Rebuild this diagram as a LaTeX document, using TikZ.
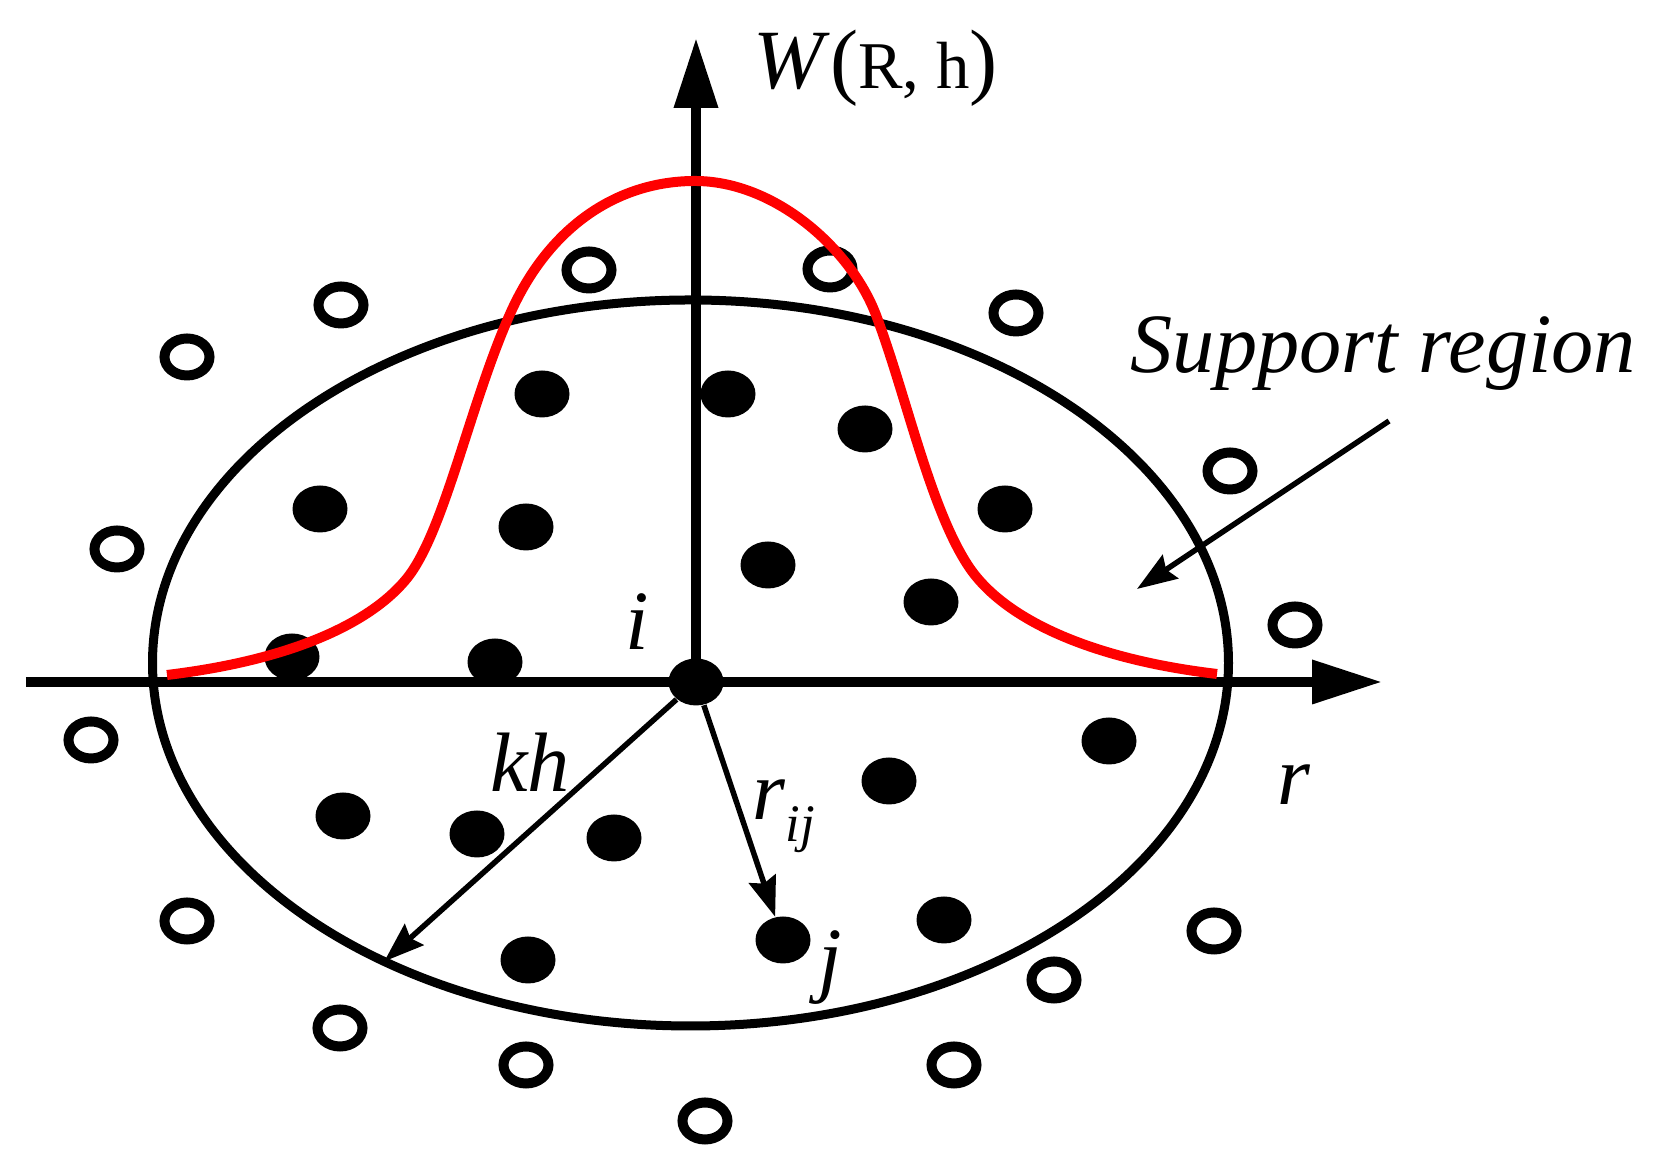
\documentclass[tikz,border=0pt]{standalone}
\usepackage{fontspec}
\setmainfont{Liberation Serif}
\usetikzlibrary{arrows.meta,shapes.geometric}

\begin{document}
\begin{tikzpicture}[
	particle/.style={ellipse,fill=black,inner sep=0pt,minimum width=0.55cm,minimum height=0.47cm},
	ghost/.style={ellipse,draw=black,line width=0.1cm,inner sep=0pt,minimum width=0.45cm,minimum height=0.37cm},
	axis/.style={line width=0.1cm,-{Triangle[length=0.7cm,width=0.42cm]}},
	pointer/.style={line width=0.055cm,-{Stealth[length=0.4cm,width=0.28cm,inset=0.05cm]}},
	kernel/.style={red,line width=0.1cm},
	lab/.style={font=\fontsize{24}{28}\selectfont\itshape,inner sep=0pt}
	]
		\useasboundingbox (0,0) rectangle (16.59,11.64);
		
		% support region
		\coordinate (ctr) at (6.905,5.01);
		\draw [line width=0.09cm] (ctr) ellipse [x radius=5.38, y radius=3.63];
		\path (ctr) ++(235.3:5.38 and 3.63) coordinate (khend);
		
		% particles inside
		\node[particle] (i) at (6.96,4.82) {};
		\node[particle] (j) at (7.83,2.24) {};
		\node[particle] (p1) at (5.42,7.70) {};
		\node[particle] (p2) at (7.28,7.70) {};
		\node[particle] (p3) at (8.65,7.35) {};
		\node[particle] (p4) at (3.20,6.55) {};
		\node[particle] (p5) at (5.26,6.37) {};
		\node[particle] (p6) at (10.05,6.55) {};
		\node[particle] (p7) at (7.68,5.99) {};
		\node[particle] (p8) at (9.31,5.62) {};
		\node[particle] (p9) at (2.92,5.07) {};
		\node[particle] (p10) at (4.95,5.02) {};
		\node[particle] (p11) at (11.09,4.23) {};
		\node[particle] (p12) at (8.89,3.83) {};
		\node[particle] (p13) at (3.43,3.48) {};
		\node[particle] (p14) at (4.77,3.30) {};
		\node[particle] (p15) at (6.14,3.26) {};
		\node[particle] (p16) at (9.44,2.44) {};
		\node[particle] (p17) at (5.28,2.04) {};
		
		% particles outside
		\node[ghost] (q1) at (3.41,8.59) {};
		\node[ghost] (q2) at (5.89,8.94) {};
		\node[ghost] (q3) at (8.30,8.95) {};
		\node[ghost] (q4) at (10.16,8.51) {};
		\node[ghost] (q5) at (1.87,8.07) {};
		\node[ghost] (q6) at (12.30,6.93) {};
		\node[ghost] (q7) at (1.17,6.15) {};
		\node[ghost] (q8) at (12.95,5.39) {};
		\node[ghost] (q9) at (0.91,4.24) {};
		\node[ghost] (q10) at (1.87,2.43) {};
		\node[ghost] (q11) at (12.14,2.33) {};
		\node[ghost] (q12) at (10.54,1.84) {};
		\node[ghost] (q13) at (3.40,1.36) {};
		\node[ghost] (q14) at (5.26,0.99) {};
		\node[ghost] (q15) at (9.54,0.99) {};
		\node[ghost] (q16) at (7.05,0.43) {};
		
		% axes
		\coordinate (rstart) at (0.26,4.82);
		\coordinate (rtip) at (13.82,4.82);
		\coordinate (wtip) at (6.96,11.26);
		\draw[axis] (rstart) -- (rtip);
		\draw[axis] (i.center) -- (wtip);
		
		% kernel
		\draw[kernel] (1.67,4.89) .. controls (3.0,5.05) and (3.75,5.45) .. (4.08,5.87)
			.. controls (4.45,6.35) and (4.7,7.6) .. (5.1,8.5)
			.. controls (5.5,9.4) and (6.2,9.83) .. (6.95,9.83)
			.. controls (7.75,9.83) and (8.51,9.15) .. (8.76,8.49)
			.. controls (9.06,7.70) and (9.3,6.55) .. (9.69,5.97)
			.. controls (10.04,5.45) and (10.9,5.05) .. (12.17,4.90);
		
		% radius and distance
		\draw[pointer] (i) -- (khend);
		\draw[pointer] (i) -- (j);
		\coordinate (suptail) at (13.89,7.43);
		\coordinate (suptip) at (11.37,5.75);
		\draw[pointer] (suptail) -- (suptip);
		
		% labels
		\node[inner sep=0pt,anchor=base west] (wlab) at (7.53,10.75) {\fontsize{24}{28}\selectfont\itshape W\/\upshape(\fontsize{19}{22}\selectfont R, h\fontsize{24}{28}\selectfont)};
		\node[lab,anchor=base west] (suplab) at (11.30,7.91) {Support region};
		\node[lab,anchor=base] (ilab) at (6.37,5.14) {i};
		\node[lab,anchor=base] (jlab) at (8.30,1.77) {j};
		\node[lab,anchor=base] (khlab) at (5.30,3.72) {kh};
		\node[lab,anchor=base west] (rijlab) at (7.52,3.44) {r\raisebox{-6pt}{\fontsize{15}{18}\selectfont ij}};
		\node[lab,anchor=base] (rlab) at (12.94,3.59) {r};
	\end{tikzpicture}
\end{document}
